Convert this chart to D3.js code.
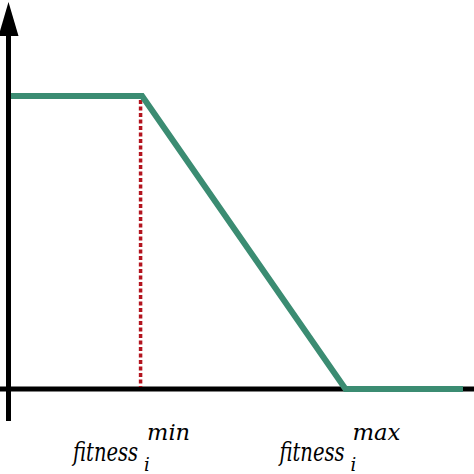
<!DOCTYPE html>
<html><head><meta charset="utf-8">
<script src="https://cdn.jsdelivr.net/npm/d3@7"></script>
<style>html,body{margin:0;padding:0;background:#fff;}svg{display:block;}
.lbl{font-family:"DejaVu Serif","Liberation Serif",serif;font-style:italic;}</style>
</head><body>
<script>
// data (x in abstract fitness units, y in abstract output units)
const lineX = [0, 29, 74, 100];
const lineY = [1, 1, 0, 0];
const tickX = [29, 74];
const tickBase = ["fitness", "fitness"];
const tickSub = ["i", "i"];
const tickSup = ["min", "max"];

const W = 474, H = 474;
const svg = d3.select("body").append("svg").attr("width", W).attr("height", H);
const x = d3.scaleLinear().domain([0, 100]).range([11, 463]);
const y = d3.scaleLinear().domain([0, 1]).range([389, 96]);

// axes
svg.append("line").attr("x1", 0).attr("x2", W).attr("y1", y(0)).attr("y2", y(0))
  .attr("stroke", "#000").attr("stroke-width", 5);
svg.append("line").attr("x1", 8.5).attr("x2", 8.5).attr("y1", 30).attr("y2", 421)
  .attr("stroke", "#000").attr("stroke-width", 5);
svg.append("path").attr("d", "M8.5,2 L18.5,36 L-1.5,36 Z").attr("fill", "#000");

// red dotted guide
svg.append("line").attr("x1", x(tickX[0]) - 1.5).attr("x2", x(tickX[0]) - 1.5)
  .attr("y1", y(1) + 4).attr("y2", y(0) - 2)
  .attr("stroke", "#b3141e").attr("stroke-width", 3.5).attr("stroke-dasharray", "4,2.5");

// green line
const data = lineX.map((v, i) => [v, lineY[i]]);
svg.append("path").datum(data)
  .attr("d", d3.line().x(d => x(d[0])).y(d => y(d[1])))
  .attr("fill", "none").attr("stroke", "#3b8c72").attr("stroke-width", 6)
  .attr("stroke-linejoin", "miter");

// labels
tickX.forEach((t, i) => {
  const px = x(t);
  const g = svg.append("g").attr("class", "lbl").attr("fill", "#000");
  g.append("text").attr("x", px + (i === 0 ? -69 : -66)).attr("y", 461)
    .attr("font-size", 26).attr("textLength", 65).attr("lengthAdjust", "spacingAndGlyphs")
    .text(tickBase[i]);
  g.append("text").attr("x", px + (i === 0 ? 2 : 5)).attr("y", 471)
    .attr("font-size", 18).text(tickSub[i]);
  g.append("text").attr("x", px + (i === 0 ? 5 : 7)).attr("y", 440)
    .attr("font-size", 22).attr("textLength", i === 0 ? 43 : 48).attr("lengthAdjust", "spacingAndGlyphs")
    .text(tickSup[i]);
});
</script>
</body></html>
